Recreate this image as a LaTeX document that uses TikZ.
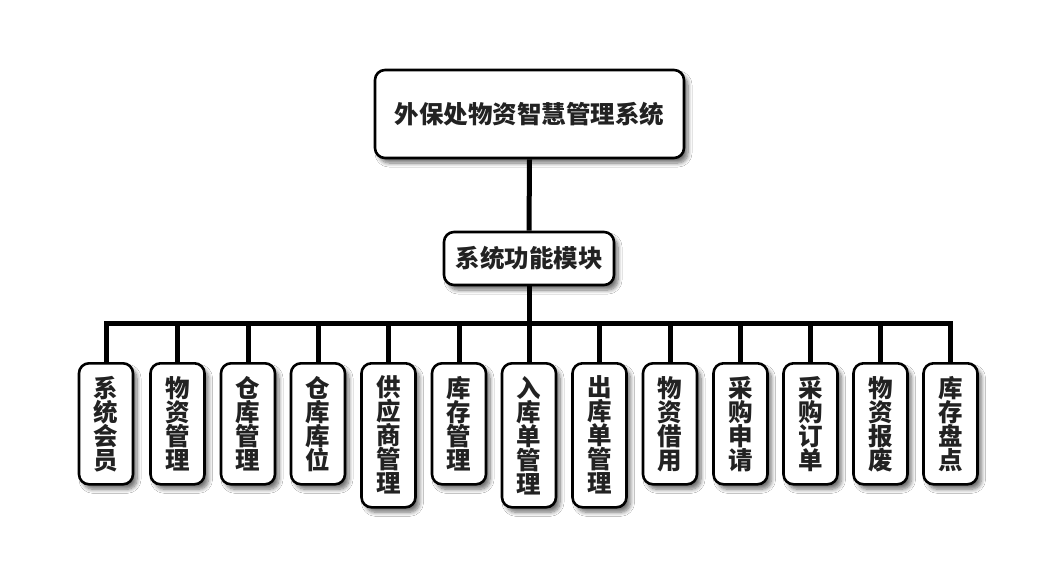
\documentclass[tikz,border=0pt]{standalone}
\usepackage{fontspec}
\newfontfamily\cjk{Noto Sans CJK SC}
\usetikzlibrary{shadows.blur}
\definecolor{txt}{HTML}{222222}
\tikzset{
  box/.style={draw=black, line width=2.6pt, fill=white, rounded corners=10pt,
    text=txt, font=\cjk\bfseries\fontsize{24.5}{24}\selectfont, inner sep=0pt, align=center,
    blur shadow={shadow xshift=4pt, shadow yshift=-5pt, shadow blur steps=8, shadow opacity=55, shadow blur radius=4pt}},
  leaf/.style={box, anchor=north, minimum width=54pt, minimum height=121pt},
  leaf5/.style={leaf, minimum height=144pt},
  conn/.style={draw=black, line width=5pt}
}
\begin{document}
\begin{tikzpicture}[x=1pt,y=-1pt]
\useasboundingbox[fill=white] (0,0) rectangle (1057,583);
\node[box, minimum width=309pt, minimum height=88pt] (top) at (529.5,114) {外保处物资智慧管理系统};
\node[box, minimum width=170pt, minimum height=53pt] (mid) at (529,258.5) {系统功能模块};
\coordinate (bus) at (529,323);
\node[leaf]  (b1)  at (106,362)   {系\\统\\会\\员};
\node[leaf]  (b2)  at (177.5,362) {物\\资\\管\\理};
\node[leaf]  (b3)  at (248,362)   {仓\\库\\管\\理};
\node[leaf]  (b4)  at (318,362)   {仓\\库\\库\\位};
\node[leaf5] (b5)  at (388.5,362) {供\\应\\商\\管\\理};
\node[leaf]  (b6)  at (459,362)   {库\\存\\管\\理};
\node[leaf5] (b7)  at (529,362)   {入\\库\\单\\管\\理};
\node[leaf5] (b8)  at (599.5,362) {出\\库\\单\\管\\理};
\node[leaf]  (b9)  at (670,362)   {物\\资\\借\\用};
\node[leaf]  (b10) at (740.5,362) {采\\购\\申\\请};
\node[leaf]  (b11) at (810.5,362) {采\\购\\订\\单};
\node[leaf]  (b12) at (880.5,362) {物\\资\\报\\废};
\node[leaf]  (b13) at (950.5,362) {库\\存\\盘\\点};
\draw[conn] (top.south) -- (mid.north);
\draw[conn] (mid.south) -- (bus);
\foreach \i in {1,...,13} {\draw[conn] (bus) -| (b\i.north);}
\end{tikzpicture}
\end{document}
